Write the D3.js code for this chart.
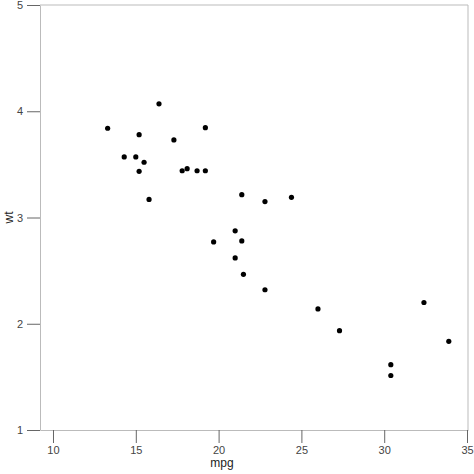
<!DOCTYPE html>
<html>
<head>
<meta charset="utf-8">
<script src="https://cdn.jsdelivr.net/npm/d3@7"></script>
<style>
body { margin: 0; background: #fff; }
.axis text { font-family: "Liberation Sans", Arial, sans-serif; font-size: 11px; fill: #444; }
.axis path { stroke: #bbb; }
.axis line { stroke: #666; }
.title { font-family: "Liberation Sans", Arial, sans-serif; font-size: 12px; fill: #222; }
</style>
</head>
<body>
<svg id="chart" width="474" height="474"></svg>
<script>

// mtcars: mpg vs wt
var mpg = [21.0, 21.0, 22.8, 21.4, 18.7, 18.1, 14.3, 24.4, 22.8, 19.2, 17.8, 16.4, 17.3, 15.2,
           10.4, 10.4, 14.7, 32.4, 30.4, 33.9, 21.5, 15.5, 15.2, 13.3, 19.2, 27.3, 26.0, 30.4,
           15.8, 19.7, 15.0, 21.4];
var wt = [2.620, 2.875, 2.320, 3.215, 3.440, 3.460, 3.570, 3.190, 3.150, 3.440, 3.440, 4.070,
          3.730, 3.780, 5.250, 5.424, 5.345, 2.200, 1.615, 1.835, 2.465, 3.520, 3.435, 3.840,
          3.845, 1.935, 2.140, 1.513, 3.170, 2.770, 3.570, 2.780];
var xTicks = [10, 15, 20, 25, 30, 35];
var yTicks = [1, 2, 3, 4, 5];

var svg = d3.select("#chart"),
    margin = {top: 5, right: 6, bottom: 44, left: 40},
    width = +svg.attr("width") - margin.left - margin.right,
    height = +svg.attr("height") - margin.top - margin.bottom;

var g = svg.append("g").attr("transform", "translate(" + margin.left + "," + margin.top + ")");

var x = d3.scaleLinear().domain([9.215, 35.06]).range([0, width]);
var y = d3.scaleLinear().domain([1, 5]).range([height, 0]);

var data = mpg.map(function(d, i) { return {x: d, y: wt[i]}; })
  .filter(function(d) { return d.y <= 5; });

/// frame top and right
g.append("path")
    .attr("d", "M0,0H" + width + "V" + height)
    .attr("fill", "none")
    .attr("stroke", "#bbb");

g.append("g")
    .attr("class", "axis")
    .attr("transform", "translate(0," + height + ")")
    .call(d3.axisBottom(x).tickValues(xTicks).tickFormat(d3.format("d"))
      .tickSize(13).tickSizeOuter(0).tickPadding(3));

g.append("g")
    .attr("class", "axis")
    .call(d3.axisLeft(y).tickValues(yTicks).tickFormat(d3.format("d"))
      .tickSize(13).tickSizeOuter(0).tickPadding(4));

g.selectAll("circle")
    .data(data)
  .enter().append("circle")
    .attr("cx", function(d) { return x(d.x); })
    .attr("cy", function(d) { return y(d.y); })
    .attr("r", 2.6)
    .attr("fill", "#000");

svg.append("text")
    .attr("class", "title")
    .attr("x", margin.left + x(20.2))
    .attr("y", 467)
    .attr("text-anchor", "middle")
    .text("mpg");

svg.append("text")
    .attr("class", "title")
    .attr("transform", "translate(13," + (margin.top + height / 2) + ") rotate(-90)")
    .attr("text-anchor", "middle")
    .text("wt");

</script>
</body>
</html>
